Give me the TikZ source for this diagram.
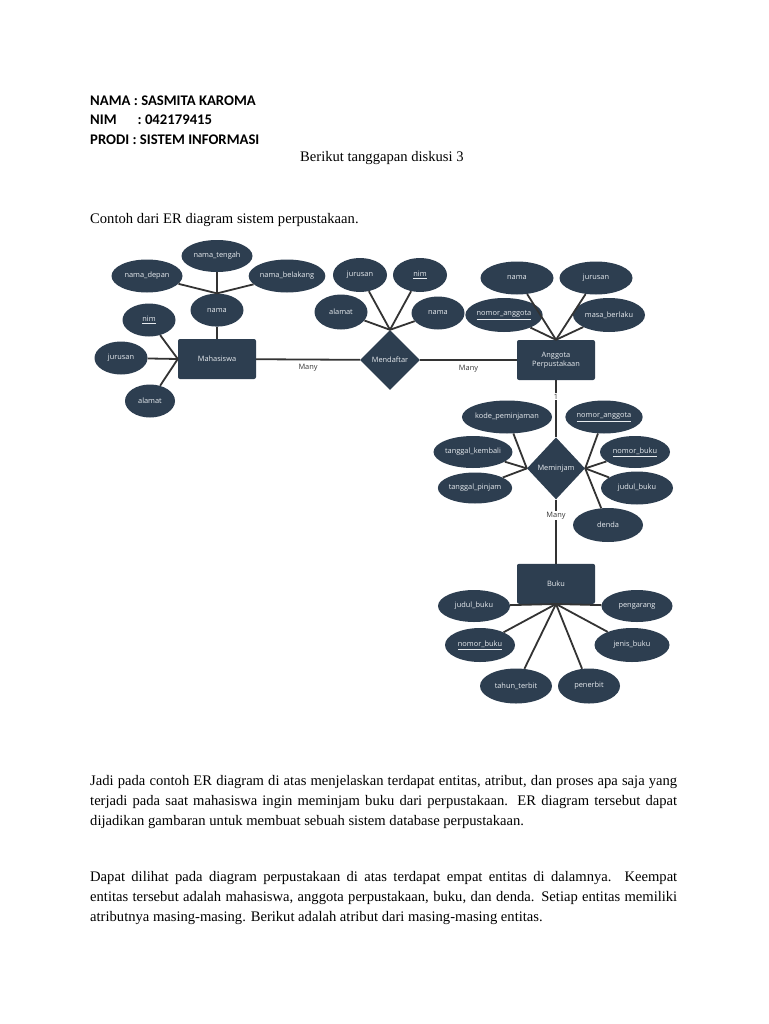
\documentclass[tikz,border=0pt]{standalone}
\usepackage{fontspec}
\setmainfont{Liberation Serif}
\newfontfamily\headfont{Carlito}
\newfontfamily\erfont{Open Sans}
\usetikzlibrary{shapes.geometric,positioning}

\definecolor{navy}{HTML}{2D3E50}
\definecolor{ink}{HTML}{E8ECF0}
\definecolor{wire}{HTML}{333333}

\newcommand{\erlabel}{\erfont\fontsize{7.4}{8.8}\selectfont}
\newcommand{\bodytext}{\fontsize{14.6}{20}\selectfont}
\newcommand{\fullline}[1]{\makebox[587pt][s]{#1}}

\tikzset{
  entity/.style={rectangle, rounded corners=2pt, fill=navy, text=ink,
    minimum width=78pt, minimum height=40pt, inner sep=1pt, align=center, font=\erlabel},
  attribute/.style={ellipse, fill=navy, text=ink, minimum width=53pt,
    minimum height=33pt, inner sep=0pt, font=\erlabel},
  relation/.style={diamond, fill=navy, text=ink, minimum width=60pt,
    minimum height=60pt, inner sep=0pt, font=\erlabel},
  link/.style={draw=wire, line width=1.8pt},
  card/.style={fill=white, inner sep=1pt, text=black!80, font=\erlabel},
  textline/.style={anchor=base west, inner sep=0pt, font=\bodytext},
  headline/.style={anchor=base west, inner sep=0pt,
    font=\headfont\bfseries\fontsize{14.7}{18}\selectfont},
}

\begin{document}
\begin{tikzpicture}[x=1pt, y=-1pt]
    \useasboundingbox[fill=white] (0,0) rectangle (768,1024);

    % header
    \node[headline] (head nama) at (90,106) {NAMA : SASMITA KAROMA};
    \node[headline] (head nim) at (90,125) {NIM\hspace{21pt}: 042179415};
    \node[headline] (head prodi) at (90,145) {PRODI : SISTEM INFORMASI};
    \node[textline] (judul) at (300,162) {Berikut tanggapan diskusi 3};
    \node[textline] (contoh) at (90,224) {Contoh dari ER diagram sistem perpustakaan.};

    % Mahasiswa
    \node[entity] (mhs) at (217,359) {Mahasiswa};
    \node[attribute] (mhs nama) [above=12pt of mhs] {nama};
    \node[attribute, minimum width=71pt] (nama depan) at (147,276) {nama\_depan};
    \node[attribute, minimum width=71pt, minimum height=32pt] (nama tengah) at (217,256) {nama\_tengah};
    \node[attribute, minimum width=72pt] (nama belakang) at (287,276) {nama\_belakang};
    \node[attribute] (mhs nim) at (149,320) {\underline{nim}};
    \node[attribute] (mhs jurusan) at (121,358) {jurusan};
    \node[attribute, minimum width=50pt] (mhs alamat) at (150,401) {alamat};

    % Mendaftar
    \node[relation] (mendaftar) at (390,360) {Mendaftar};
    \node[attribute, minimum width=54pt, minimum height=34pt] (daftar jurusan) at (360,275) {jurusan};
    \node[attribute, minimum width=54pt, minimum height=34pt] (daftar nim) at (420,275) {\underline{nim}};
    \node[attribute, minimum height=35pt] (daftar alamat) at (341,312) {alamat};
    \node[attribute] (daftar nama) at (438,313) {nama};

    % Anggota Perpustakaan
    \node[entity] (anggota) at (556,360) {Anggota\\Perpustakaan};
    \node[attribute, minimum width=73pt] (agt nama) at (517,278) {nama};
    \node[attribute, minimum width=73pt] (agt jurusan) at (596,278) {jurusan};
    \node[attribute, minimum width=75pt, minimum height=34pt] (agt nomor) at (504,315) {\underline{nomor\_anggota}};
    \node[attribute, minimum width=72pt, minimum height=34pt] (agt masa) at (609,315) {masa\_berlaku};

    % Meminjam
    \node[relation, minimum width=58pt, minimum height=62pt] (meminjam) [below=57pt of anggota] {Meminjam};
    \node[attribute, minimum width=75pt] (kode pinjam) at (507,417) {kode\_peminjaman};
    \node[attribute, minimum width=72pt, minimum height=32pt] (tgl kembali) at (473,452) {tanggal\_kembali};
    \node[attribute, minimum width=74pt, minimum height=31pt] (tgl pinjam) at (475,488) {tanggal\_pinjam};
    \node[attribute, minimum width=72pt] (pinjam anggota) at (604,417) {\underline{nomor\_anggota}};
    \node[attribute, minimum width=70pt, minimum height=32pt] (pinjam nomor) at (635,452) {\underline{nomor\_buku}};
    \node[attribute, minimum width=72pt] (pinjam judul) at (637,488) {judul\_buku};
    \node[attribute, minimum width=70pt, minimum height=34pt] (denda) at (608,525) {denda};

    % Buku
    \node[entity] (buku) [below=64pt of meminjam] {Buku};
    \node[attribute, minimum width=72pt, minimum height=32pt] (buku judul) at (474,606) {judul\_buku};
    \node[attribute, minimum width=70pt, minimum height=34pt] (buku nomor) at (480,645) {\underline{nomor\_buku}};
    \node[attribute, minimum width=72pt, minimum height=35pt] (tahun terbit) at (516,686) {tahun\_terbit};
    \node[attribute, minimum width=62pt, minimum height=35pt] (penerbit) at (589,686) {penerbit};
    \node[attribute, minimum width=71pt, minimum height=32pt] (pengarang) at (637,606) {pengarang};
    \node[attribute, minimum width=75pt, minimum height=34pt] (jenis buku) at (632,645) {jenis\_buku};

    % connectors
    \draw[link] (mhs nama) -- (mhs);
    \foreach \a in {nama depan, nama tengah, nama belakang}
        \draw[link] (\a) -- (mhs nama.north);
    \foreach \a in {mhs nim, mhs jurusan, mhs alamat}
        \draw[link] (\a) -- (mhs.west);
    \draw[link] (mhs) -- node[card, below=3pt] {Many} (mendaftar);
    \draw[link] (mendaftar) -- node[card, below=3pt] {Many} (anggota);
    \foreach \a in {daftar jurusan, daftar nim, daftar alamat, daftar nama}
        \draw[link] (\a) -- (mendaftar.north);
    \foreach \a in {agt nama, agt jurusan, agt nomor, agt masa}
        \draw[link] (\a) -- (anggota.north);
    \draw[link] (anggota) -- node[card, pos=0.29] {1} (meminjam);
    \draw[link] (meminjam) -- node[card, pos=0.25] {Many} (buku);
    \foreach \a in {kode pinjam, tgl kembali, tgl pinjam}
        \draw[link] (\a) -- (meminjam.west);
    \foreach \a in {pinjam anggota, pinjam nomor, pinjam judul, denda}
        \draw[link] (\a) -- (meminjam.east);
    \foreach \a in {buku judul, buku nomor, tahun terbit, penerbit, pengarang, jenis buku}
        \draw[link] (\a) -- (buku.south);

    % paragraphs
    \node[textline] (jadi a) at (90,785) {\fullline{Jadi pada contoh ER diagram di atas menjelaskan terdapat entitas, atribut, dan proses apa saja yang}};
    \node[textline] (jadi b) at (90,805) {\fullline{terjadi pada saat mahasiswa ingin meminjam buku dari perpustakaan. ER diagram tersebut dapat}};
    \node[textline] (jadi c) at (90,825) {dijadikan gambaran untuk membuat sebuah sistem database perpustakaan.};
    \node[textline] (dapat a) at (90,881) {\fullline{Dapat dilihat pada diagram perpustakaan di atas terdapat empat entitas di dalamnya. Keempat}};
    \node[textline] (dapat b) at (90,901) {\fullline{entitas tersebut adalah mahasiswa, anggota perpustakaan, buku, dan denda. Setiap entitas memiliki}};
    \node[textline] (dapat c) at (90,921) {atributnya masing-masing. Berikut adalah atribut dari masing-masing entitas.};
\end{tikzpicture}
\end{document}
